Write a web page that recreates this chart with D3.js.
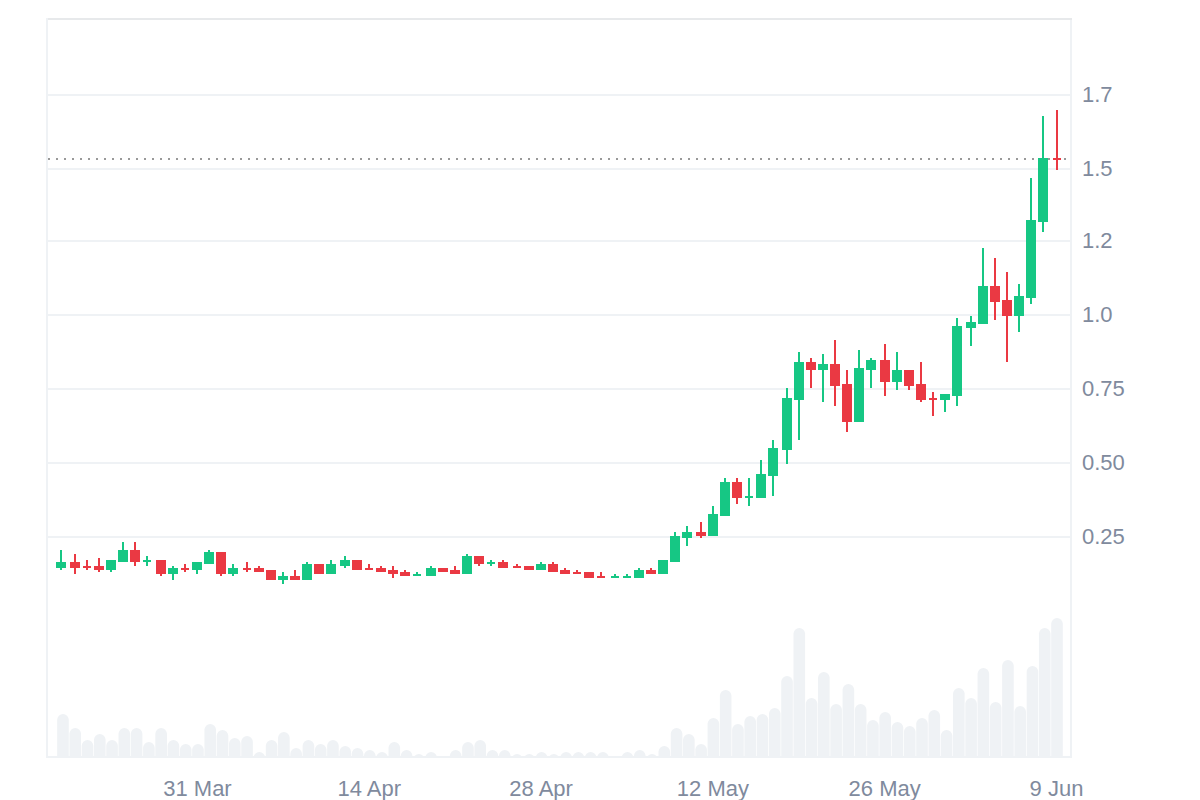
<!DOCTYPE html>
<html>
<head>
<meta charset="utf-8">
<style>
html,body{margin:0;padding:0;background:#fff}
svg{display:block}
text{font-family:"Liberation Sans",Arial,sans-serif}
</style>
<script src="https://cdnjs.cloudflare.com/ajax/libs/d3/7.8.5/d3.min.js"></script>
</head>
<body>
<svg id="chart" width="1200" height="800"></svg>
<script>
const startDate = "2025-03-20";
const open = [.145,.165,.152,.152,.138,.165,.206,.165,.172,.124,.145,.138,.158,.199,.124,.145,.145,.138,.104,.118,.104,.158,.124,.152,.172,.145,.145,.138,.131,.118,.118,.145,.138,.124,.186,.158,.165,.152,.152,.138,.158,.138,.131,.131,.118,.111,.111,.111,.138,.124,.165,.247,.267,.253,.321,.437,.382,.382,.457,.545,.715,.844,.817,.837,.769,.640,.817,.851,.776,.817,.769,.722,.715,.729,.959,.973,1.102,1.054,1.000,1.061,1.319,1.536];
const close = [.165,.145,.145,.138,.172,.206,.165,.172,.124,.145,.138,.165,.199,.124,.145,.138,.131,.104,.118,.104,.158,.124,.158,.172,.138,.138,.131,.124,.118,.124,.145,.131,.124,.186,.158,.165,.145,.145,.138,.158,.131,.124,.124,.111,.111,.118,.118,.138,.124,.172,.253,.267,.253,.328,.437,.382,.389,.464,.552,.722,.844,.817,.837,.762,.640,.824,.851,.776,.817,.762,.715,.715,.735,.966,.980,1.102,1.048,1.000,1.068,1.326,1.536,1.529];
const high = [.206,.192,.172,.179,.172,.233,.233,.186,.172,.152,.158,.165,.206,.199,.158,.165,.152,.138,.131,.138,.165,.158,.172,.186,.172,.158,.152,.152,.138,.131,.152,.145,.152,.192,.186,.172,.172,.158,.152,.165,.165,.145,.138,.131,.131,.124,.124,.145,.145,.172,.267,.287,.301,.355,.450,.450,.450,.511,.579,.756,.878,.857,.871,.919,.817,.885,.857,.905,.878,.817,.844,.742,.735,.993,1.000,1.231,1.197,1.149,1.109,1.468,1.679,1.699];
const low = [.138,.124,.138,.131,.131,.165,.152,.152,.118,.104,.131,.124,.158,.118,.118,.131,.131,.104,.091,.104,.104,.124,.124,.145,.138,.138,.131,.111,.118,.118,.118,.131,.124,.124,.152,.152,.145,.145,.138,.138,.131,.124,.124,.111,.111,.111,.111,.111,.124,.124,.165,.219,.247,.253,.321,.362,.355,.382,.389,.498,.579,.756,.708,.695,.606,.640,.756,.729,.749,.749,.708,.661,.674,.695,.898,.973,.986,.844,.946,1.041,1.285,1.495];
const volume = [42,28,16,22,16,28,28,14,28,16,12,12,32,26,18,20,4,16,24,8,16,12,16,10,8,6,4,14,6,2,4,0,6,14,16,6,6,2,2,4,2,4,4,4,4,0,4,6,2,10,28,22,12,38,66,32,40,42,48,80,128,58,84,52,72,52,36,44,34,30,38,46,26,68,58,88,54,96,50,90,128,138];
const yTickValues = [0.25,0.5,0.75,1.0,1.25,1.5,1.75];
const yTickLabels = ["0.25","0.50","0.75","1.0","1.2","1.5","1.7"];
const xTickDates = ["2025-03-31","2025-04-14","2025-04-28","2025-05-12","2025-05-26","2025-06-09"];
const xTickLabels = ["31 Mar","14 Apr","28 Apr","12 May","26 May","9 Jun"];
const lastPrice = 1.532;

const UP = "#16c784", DOWN = "#ea3943", GRID = "#eff2f5", VOL = "#eff2f5", TXT = "#808a9d";
const parse = d3.utcParse("%Y-%m-%d");
const dates = open.map((_, i) => d3.utcDay.offset(parse(startDate), i));
const candles = dates.map((d, i) => ({d, o: open[i], c: close[i], h: high[i], l: low[i], v: volume[i]}));

const L = 47, R = 1071, T = 19, B = 757;
const x = d3.scaleUtc().domain([dates[0], dates[dates.length - 1]]).range([61.97, 1056.01]);
const y = d3.scaleLinear().domain([0.25, 1.75]).range([537, 95]);
// gridlines and axis labels sit on device-snapped rows, slightly uneven
const yGrid = d3.scaleLinear().domain(yTickValues).range([537, 463, 389, 315, 241, 169, 95]);
const vol = d3.scaleLinear().domain([0, d3.max(volume)]).range([756, 618]);
const snapX = v => 2 * Math.round((v - 1) / 2) + 1;
const snapY = v => 2 * Math.round(v / 2);

const svg = d3.select("#chart");
svg.append("defs").append("clipPath").attr("id", "volClip")
  .append("rect").attr("x", L).attr("y", T).attr("width", R - L).attr("height", B - T);

// grid
svg.append("g").selectAll("line").data(yTickValues).join("line")
  .attr("x1", L).attr("x2", R).attr("y1", d => yGrid(d)).attr("y2", d => yGrid(d))
  .attr("stroke", GRID).attr("stroke-width", 2);

// frame
svg.append("rect").attr("x", L).attr("y", T).attr("width", R - L).attr("height", B - T)
  .attr("fill", "none").attr("stroke", GRID).attr("stroke-width", 2);
svg.append("line").attr("x1", L + 1).attr("x2", R + 1).attr("y1", T).attr("y2", T)
  .attr("stroke", "#e7e9eb").attr("stroke-width", 2);

// volume
svg.append("g").attr("clip-path", "url(#volClip)").selectAll("rect")
  .data(candles.filter(c => c.v > 0)).join("rect")
  .attr("x", c => x(c.d) + 1 - 5.8).attr("width", 11.6)
  .attr("y", c => vol(c.v)).attr("height", c => vol(0) - vol(c.v) + 12)
  .attr("rx", 5.8).attr("fill", VOL);

// price line
const priceY = snapY(y(lastPrice) - 1) + 1;
svg.append("line").attr("x1", 48).attr("x2", 1066)
  .attr("y1", priceY).attr("y2", priceY)
  .attr("stroke", "#999").attr("stroke-width", 2).attr("stroke-dasharray", "2 6");

// candles
function bodyH(c) { return Math.max(2, snapY(y(Math.min(c.o, c.c))) - snapY(y(Math.max(c.o, c.c)))); }
const g = svg.append("g").selectAll("g").data(candles).join("g")
  .attr("fill", c => c.c >= c.o ? UP : DOWN);
g.append("rect")
  .attr("x", c => snapX(x(c.d)) - 1).attr("width", 2)
  .attr("y", c => snapY(y(c.h))).attr("height", c => snapY(y(c.l)) - snapY(y(c.h)));
g.append("rect")
  .attr("x", c => snapX(x(c.d)) - (bodyH(c) <= 2 ? 4 : 5))
  .attr("width", c => bodyH(c) <= 2 ? 8 : 10)
  .attr("y", c => snapY(y(Math.max(c.o, c.c))))
  .attr("height", bodyH);

// axes
const yAxis = d3.axisRight(yGrid).tickValues(yTickValues)
  .tickFormat((d, i) => yTickLabels[i]).tickSize(0).tickPadding(0);
svg.append("g").attr("transform", "translate(1082,-1)").call(yAxis)
  .call(a => a.select(".domain").remove())
  .call(a => a.selectAll("text").attr("x", 0).attr("fill", TXT).attr("font-size", 22)
    .style("font-family", '"Liberation Sans",Arial,sans-serif'));

const xAxis = d3.axisBottom(x).tickValues(xTickDates.map(parse))
  .tickFormat((d, i) => xTickLabels[i]).tickSize(0).tickPadding(0);
svg.append("g").attr("transform", "translate(0,780)").call(xAxis)
  .call(a => a.select(".domain").remove())
  .call(a => a.selectAll("text").attr("y", 0).attr("dy", "0.71em").attr("fill", TXT).attr("font-size", 22)
    .style("font-family", '"Liberation Sans",Arial,sans-serif'));
</script>
</body>
</html>
